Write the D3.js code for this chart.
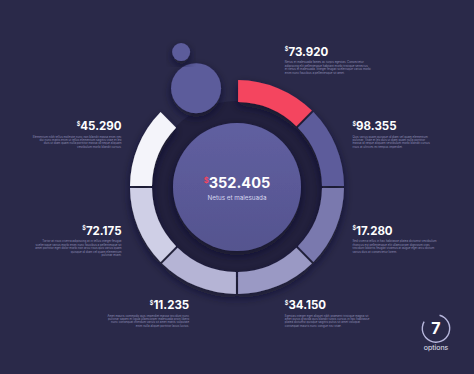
<!DOCTYPE html>
<html>
<head>
<meta charset="utf-8">
<script src="https://cdn.jsdelivr.net/npm/d3@7"></script>
<style>
  html, body { margin: 0; padding: 0; background: #2a2949; }
  svg { display: block; font-family: Inter, "Noto Sans", sans-serif; }
</style>
</head>
<body>
<div id="chart"></div>
<script>
// data
var amounts = ["73.920", "98.355", "17.280", "34.150", "11.235", "72.175", "45.290"];
var sliceColors = ["#f4455f", "#5d5c9b", "#7a79ae", "#9a99c4", "#b5b4d5", "#cfcfe6", "#f4f4fa"];
var notes = [
  ["Netus et malesuada fames ac turpis egestas. Consectetur",
   "adipiscing elit pellentesque habitant morbi tristique senectus",
   "et netus et malesuada. Integer feugiat scelerisque varius morbi",
   "enim nunc faucibus a pellentesque sit amet."],
  ["Quis varius quam quisque id diam vel quam elementum",
   "pulvinar. Vitae et leo duis ut diam quam nulla porttitor",
   "massa id neque aliquam vestibulum morbi blandit cursus",
   "risus at ultrices mi tempus imperdiet."],
  ["Sed viverra tellus in hac habitasse platea dictumst vestibulum",
   "rhoncus est pellentesque elit ullamcorper dignissim cras",
   "tincidunt lobortis feugiat vivamus at augue eget arcu dictum",
   "varius duis at consectetur lorem."],
  ["Egestas integer eget aliquet nibh praesent tristique magna sit",
   "amet purus gravida quis blandit turpis cursus in hac habitasse",
   "platea dictumst quisque sagittis purus sit amet volutpat",
   "consequat mauris nunc congue nisi vitae."],
  ["Amet mauris commodo quis imperdiet massa tincidunt nunc",
   "pulvinar sapien et ligula ullamcorper malesuada proin libero",
   "nunc consequat interdum varius sit amet mattis vulputate",
   "enim nulla aliquet porttitor lacus luctus."],
  ["Tortor at risus viverra adipiscing at in tellus integer feugiat",
   "scelerisque varius morbi enim nunc faucibus a pellentesque sit",
   "amet porttitor eget dolor morbi non arcu risus quis varius quam",
   "quisque id diam vel quam elementum",
   "pulvinar etiam."],
  ["Elementum nibh tellus molestie nunc non blandit massa enim nec",
   "dui nunc mattis enim ut tellus elementum sagittis vitae et leo",
   "duis ut diam quam nulla porttitor massa id neque aliquam",
   "vestibulum morbi blandit cursus."]
];
var totalAmount = "352.405";
var caption = "Netus et malesuada";
var optionCount = 7;
var optionWord = "options";

// chart
var width = 474, height = 374;
var cx = width / 2, cy = height / 2;
var outerR = 107, innerR = 85, coreR = 64;

var svg = d3.select("#chart").append("svg")
  .attr("width", width)
  .attr("height", height);

svg.append("rect").attr("width", width).attr("height", height).attr("fill", "#2a2949");

var defs = svg.append("defs");
var shadow = defs.append("filter").attr("id", "shadow")
  .attr("x", "-30%").attr("y", "-30%").attr("width", "160%").attr("height", "160%");
shadow.append("feDropShadow")
  .attr("dx", 0).attr("dy", 4).attr("stdDeviation", 5)
  .attr("flood-color", "#141327").attr("flood-opacity", 0.7);

var coreGrad = defs.append("linearGradient").attr("id", "coreGrad")
  .attr("x1", 0).attr("y1", 0).attr("x2", 0).attr("y2", 1);
coreGrad.append("stop").attr("offset", "0%").attr("stop-color", "#605fa0");
coreGrad.append("stop").attr("offset", "100%").attr("stop-color", "#55548f");

// one slot per option plus an empty slot for the bubbles
var slots = d3.range(amounts.length + 1);
var angle = d3.scaleBand().domain(slots).range([0, 2 * Math.PI]);
var midAngle = function(i) { return angle(i) + angle.bandwidth() / 2; };

var g = svg.append("g").attr("transform", "translate(" + cx + "," + cy + ")");

// dark well behind the core
g.append("circle").attr("r", innerR + 1).attr("fill", "#22203d");

var arc = d3.arc()
  .innerRadius(innerR)
  .outerRadius(outerR)
  .padAngle(0.016);

g.append("g").attr("filter", "url(#shadow)")
  .selectAll("path")
  .data(amounts)
  .enter()
  .append("path")
  .attr("d", function(d, i) {
    return arc({ startAngle: angle(i), endAngle: angle(i) + angle.bandwidth() });
  })
  .style("fill", function(d, i) { return sliceColors[i]; });

// bubbles in the empty slot
var emptySlot = slots[slots.length - 1];
var bubbles = [{ dist: outerR, r: 25 }, { dist: 146, r: 9 }];
g.selectAll("circle.bubble")
  .data(bubbles)
  .enter()
  .append("circle")
  .attr("class", "bubble")
  .attr("cx", function(d) { return d.dist * Math.sin(midAngle(emptySlot)); })
  .attr("cy", function(d) { return -d.dist * Math.cos(midAngle(emptySlot)); })
  .attr("r", function(d) { return d.r; })
  .attr("fill", "#5c5b9b")
  .attr("filter", "url(#shadow)");

// core
g.append("circle").attr("r", coreR).attr("fill", "url(#coreGrad)").attr("filter", "url(#shadow)");

var totalText = g.append("text").attr("text-anchor", "middle").attr("y", 1)
  .attr("fill", "#ffffff").style("font-weight", 700);
totalText.append("tspan").attr("font-size", 7.5).attr("dy", -5).attr("fill", "#f4455f").text("$");
totalText.append("tspan").attr("font-size", 14.5).attr("dy", 5).text(totalAmount);

g.append("text").attr("text-anchor", "middle").attr("y", 13)
  .attr("font-size", 6.3).attr("fill", "#d6d6ee").text(caption);

// labels around the ring
var labelRx = 125, labelRy = 137, labelLift = 4.5;
var labels = svg.selectAll("g.label")
  .data(amounts)
  .enter()
  .append("g")
  .attr("class", "label")
  .attr("transform", function(d, i) {
    var a = midAngle(i);
    var x = cx + labelRx * Math.sin(a);
    var y = cy - labelRy * Math.cos(a) - labelLift;
    return "translate(" + x + "," + y + ")";
  })
  .attr("text-anchor", function(d, i) { return midAngle(i) < Math.PI ? "start" : "end"; });

var head = labels.append("text").attr("fill", "#ffffff").style("font-weight", 700);
head.append("tspan").attr("font-size", 5.5).attr("dy", -4.5).text("$");
head.append("tspan").attr("font-size", 11.5).attr("dy", 4.5).text(function(d) { return d; });

labels.each(function(d, i) {
  d3.select(this).selectAll("text.note")
    .data(notes[i])
    .enter()
    .append("text")
    .attr("class", "note")
    .attr("y", function(line, k) { return 7.5 + k * 3.4; })
    .attr("font-size", 2.9)
    .attr("fill", "#8e8db5")
    .text(function(line) { return line; });
});

// options badge
var badge = svg.append("g").attr("transform", "translate(" + (width - 38) + "," + (height - 45.5) + ")");
badge.append("path")
  .attr("d", d3.arc()({ innerRadius: 13, outerRadius: 14.4, startAngle: Math.PI / 12, endAngle: Math.PI * 5 / 3 }))
  .attr("fill", "#b7b6dc");
badge.append("text").attr("text-anchor", "middle").attr("y", 5.5)
  .attr("font-size", 16).attr("fill", "#ffffff").style("font-weight", 700).text(optionCount);
badge.append("text").attr("text-anchor", "middle").attr("y", 21.5)
  .attr("font-size", 7).attr("fill", "#e4e4f4").text(optionWord);
</script>
</body>
</html>
